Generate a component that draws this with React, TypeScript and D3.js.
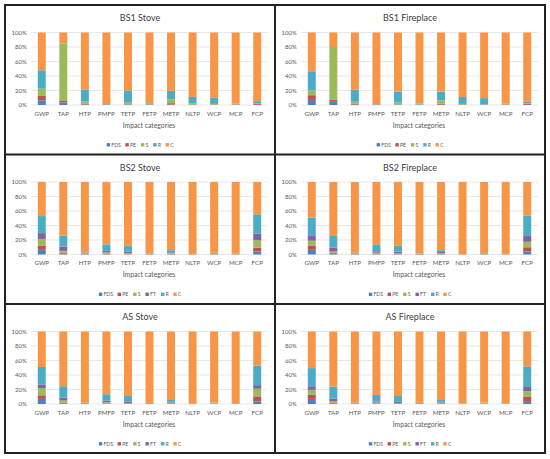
import React from 'react';
import * as d3 from 'd3';

const categories = ['GWP', 'TAP', 'HTP', 'PMFP', 'TETP', 'FETP', 'METP', 'NLTP', 'WCP', 'MCP', 'FCP'];
const yTicks = [0, 0.2, 0.4, 0.6, 0.8, 1];

// BS1 Stove (no FT series)
const bs1StoveFDS = [6.5, 3.5, 0.5, 0, 0.3, 0, 0.5, 0, 0, 0, 0.3];
const bs1StovePE = [6, 2, 1.5, 0.2, 0.7, 0.3, 2, 0.5, 0.5, 0.5, 1.5];
const bs1StoveS = [10, 79.5, 3, 0.3, 3, 0.5, 5.5, 1.5, 1, 1, 0.5];
const bs1StoveR = [25.5, 0, 16.5, 0.8, 15.5, 1.5, 11.5, 9, 8.5, 0.3, 3];
const bs1StoveC = [52, 15, 78.5, 98.7, 80.5, 97.7, 80.5, 89, 90, 98.2, 94.7];

// BS1 Fireplace (no FT series)
const bs1FireFDS = [7, 4.5, 0.5, 0, 0.3, 0, 0.5, 0, 0, 0, 0.3];
const bs1FirePE = [6.5, 3, 1.5, 0.2, 0.5, 0.3, 1.5, 0.3, 0.3, 0.5, 1.5];
const bs1FireS = [6.5, 72.5, 2.5, 0.3, 2.5, 0.5, 4.5, 1.2, 0.7, 1, 0.5];
const bs1FireR = [26.5, 0, 16.5, 0.8, 15.2, 1.2, 12, 9.5, 8.5, 0.2, 2.7];
const bs1FireC = [53.5, 20, 79, 98.7, 81.5, 98, 81.5, 89, 90.5, 98.3, 95];

// BS2 Stove
const bs2StoveFDS = [6.5, 1, 0.2, 0.5, 0.3, 0.2, 0.3, 0, 0.2, 0, 4];
const bs2StovePE = [6, 1.5, 0.5, 1, 0.7, 0.5, 0.7, 0.2, 0.3, 0.3, 5.5];
const bs2StoveS = [9, 2.5, 1.3, 1.5, 1, 0.5, 1, 0.2, 1.5, 0.3, 10];
const bs2StoveFT = [8, 6, 0.5, 2, 2, 0.3, 1, 0.1, 0.3, 0.2, 9.5];
const bs2StoveR = [23.5, 15, 0.5, 9, 8, 0.3, 3, 0, 0.2, 0.2, 26.5];
const bs2StoveC = [47, 74, 97, 86, 88, 98.2, 94, 99.5, 97.5, 99, 44.5];

// BS2 Fireplace
const bs2FireFDS = [6.5, 1, 0.2, 0.5, 0.3, 0.2, 0.3, 0, 0.2, 0, 4];
const bs2FirePE = [6, 1.5, 0.5, 0.5, 0.7, 0.5, 0.7, 0.2, 0.3, 0.3, 6];
const bs2FireS = [6.5, 1.5, 1, 1.5, 0.5, 0.4, 0.8, 0.2, 1.2, 0.3, 7.5];
const bs2FireFT = [7.5, 5.5, 0.3, 2, 2.5, 0.2, 1.7, 0.1, 0.2, 0.2, 9];
const bs2FireR = [24.5, 16, 0.5, 9, 8, 0.2, 2.5, 0, 0.1, 0.2, 27];
const bs2FireC = [49, 74.5, 97.5, 86.5, 88, 98.5, 94, 99.5, 98, 99, 46.5];

// AS Stove
const asStoveFDS = [7, 0.5, 0.2, 0.5, 0.2, 0.2, 0.3, 0, 0.2, 0, 3.5];
const asStovePE = [5, 1.5, 0.3, 0.5, 0.5, 0.5, 0.7, 0.2, 0.3, 0.3, 7];
const asStoveS = [10, 3, 0.5, 1.5, 0.5, 0.4, 1, 0.2, 1.2, 0.3, 10.5];
const asStoveFT = [5, 4, 0.5, 2, 2.3, 0.2, 1, 0.1, 0.2, 0.2, 5];
const asStoveR = [24, 15.5, 0.5, 9, 7.5, 0.2, 2.5, 0, 0.1, 0.2, 27];
const asStoveC = [49, 75.5, 98, 86.5, 89, 98.5, 94.5, 99.5, 98, 99, 47];

// AS Fireplace
const asFireFDS = [7, 0.5, 0.2, 0.3, 0.2, 0.2, 0.3, 0, 0.2, 0, 3];
const asFirePE = [5.5, 1.5, 0.3, 0.7, 0.5, 0.5, 0.7, 0.2, 0.3, 0.3, 7.5];
const asFireS = [7, 2, 0.5, 1, 0.5, 0.4, 1, 0.2, 1.2, 0.3, 7];
const asFireFT = [5, 3.5, 0.5, 1.5, 1.8, 0.2, 1, 0.1, 0.2, 0.2, 6];
const asFireR = [25, 16.5, 0.5, 9, 8, 0.2, 2.5, 0, 0.1, 0.2, 28.5];
const asFireC = [50.5, 76, 98, 87.5, 89, 98.5, 94.5, 99.5, 98, 99, 48];

const seriesColors: Record<string, string> = {
  FDS: '#4F81BD',
  PE: '#C0504D',
  S: '#9BBB59',
  FT: '#8064A2',
  R: '#4BACC6',
  C: '#F79646',
};

type Series = [string, number[]];
interface PanelData {
  title: string;
  series: Series[];
}

const panels: PanelData[] = [
  { title: 'BS1 Stove', series: [['FDS', bs1StoveFDS], ['PE', bs1StovePE], ['S', bs1StoveS], ['R', bs1StoveR], ['C', bs1StoveC]] },
  { title: 'BS1 Fireplace', series: [['FDS', bs1FireFDS], ['PE', bs1FirePE], ['S', bs1FireS], ['R', bs1FireR], ['C', bs1FireC]] },
  { title: 'BS2 Stove', series: [['FDS', bs2StoveFDS], ['PE', bs2StovePE], ['S', bs2StoveS], ['FT', bs2StoveFT], ['R', bs2StoveR], ['C', bs2StoveC]] },
  { title: 'BS2 Fireplace', series: [['FDS', bs2FireFDS], ['PE', bs2FirePE], ['S', bs2FireS], ['FT', bs2FireFT], ['R', bs2FireR], ['C', bs2FireC]] },
  { title: 'AS Stove', series: [['FDS', asStoveFDS], ['PE', asStovePE], ['S', asStoveS], ['FT', asStoveFT], ['R', asStoveR], ['C', asStoveC]] },
  { title: 'AS Fireplace', series: [['FDS', asFireFDS], ['PE', asFirePE], ['S', asFireS], ['FT', asFireFT], ['R', asFireR], ['C', asFireC]] },
];

const W = 550;
const H = 459;
const colX = [5, 275];
const rowY = [5, 154.5, 304];
const panelW = 270;
const font = 'Lato, "Open Sans", sans-serif';

function Panel({ data, x0, y0 }: { data: PanelData; x0: number; y0: number }) {
  const keys = data.series.map(s => s[0]);
  const rows = categories.map((cat, i) => {
    const row: Record<string, any> = { cat };
    data.series.forEach(([k, vals]) => { row[k] = vals[i]; });
    return row;
  });
  const stacked = d3.stack<Record<string, any>>()
    .keys(keys)
    .offset(d3.stackOffsetExpand)(rows);

  const x = d3.scaleBand<string>()
    .domain(categories)
    .range([26, 263])
    .paddingInner(0.63)
    .paddingOuter(0.315);
  const y = d3.scaleLinear().domain([0, 1]).range([100, 27.5]);
  const pct = d3.format('.0%');

  // legend sizing
  const lfs = 5.2;
  const marker = 3.4;
  const items = keys.map(k => ({ k, w: marker + 1.2 + k.length * lfs * 0.62 }));
  const gap = 4.5;
  const totalW = d3.sum(items, d => d.w) + gap * (items.length - 1);
  let lx = panelW / 2 - totalW / 2;
  const legendItems = items.map(it => {
    const pos = lx;
    lx += it.w + gap;
    return { ...it, pos };
  });

  return (
    <g transform={`translate(${x0},${y0})`}>
      <text x={panelW / 2} y={16.2} textAnchor="middle" fontSize={9} fill="#404040" fontFamily={font}>
        {data.title}
      </text>
      {yTicks.map(t => (
        <g key={t}>
          <line x1={26} x2={263} y1={y(t)} y2={y(t)} stroke="#d9d9d9" strokeWidth={0.6} />
          <text x={21.8} y={y(t) + 2.1} textAnchor="end" fontSize={6} fill="#595959" fontFamily={font}>
            {pct(t)}
          </text>
        </g>
      ))}
      {stacked.map(layer => (
        <g key={layer.key} fill={seriesColors[layer.key]}>
          {layer.map((d, i) => (
            <rect
              key={categories[i]}
              x={x(categories[i])}
              width={x.bandwidth()}
              y={y(d[1])}
              height={Math.max(0, y(d[0]) - y(d[1]))}
            />
          ))}
        </g>
      ))}
      {categories.map(c => (
        <text key={c} x={(x(c) ?? 0) + x.bandwidth() / 2} y={110.6} textAnchor="middle" fontSize={6.2} fill="#595959" fontFamily={font}>
          {c}
        </text>
      ))}
      <text x={144} y={122.6} textAnchor="middle" fontSize={6.8} fill="#595959" fontFamily={font}>
        Impact categories
      </text>
      {legendItems.map(it => (
        <g key={it.k} transform={`translate(${it.pos},139.8)`}>
          <rect x={0} y={-marker / 2} width={marker} height={marker} fill={seriesColors[it.k]} />
          <text x={marker + 1.2} y={1.85} fontSize={lfs} fill="#595959" fontFamily={font}>
            {it.k}
          </text>
        </g>
      ))}
    </g>
  );
}

export default function App() {
  return (
    <svg
      width={W}
      height={H}
      style={{ position: 'fixed', left: 0, top: 0, background: '#fff' }}
    >
      <rect x={0} y={0} width={W} height={H} fill="#fff" />
      {panels.map((p, i) => (
        <Panel key={p.title} data={p} x0={colX[i % 2]} y0={rowY[Math.floor(i / 2)]} />
      ))}
      <g stroke="#222" strokeWidth={2} fill="none">
        <rect x={5} y={5} width={540} height={448} />
        <line x1={275} x2={275} y1={5} y2={453} />
        <line x1={5} x2={545} y1={154.5} y2={154.5} />
        <line x1={5} x2={545} y1={304} y2={304} />
      </g>
    </svg>
  );
}
